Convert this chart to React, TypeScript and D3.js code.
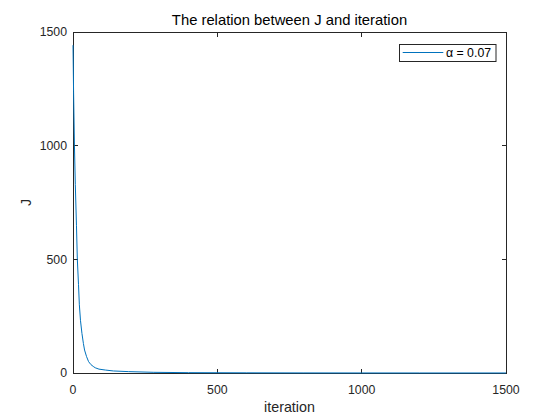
import React, { useEffect, useRef } from 'react';
import * as d3 from 'd3';

// cost J, by iteration
const iterations = [0, 2, 5, 8, 12, 15, 19, 22, 26, 31, 36, 40, 47, 54, 62, 70, 77, 90, 112, 140, 193, 280, 400, 600, 800, 1000, 1200, 1500];
const costJ = [1442, 1240, 1000, 830, 650, 500, 390, 300, 230, 174, 130, 101, 72, 50, 37, 29, 23, 17, 13, 9, 6, 3, 1.5, 0.8, 0.4, 0.2, 0.1, 0.1];

const xTicks = [0, 500, 1000, 1500];
const yTicks = [0, 500, 1000, 1500];
const legendLabel = 'α = 0.07';
const titleText = 'The relation between J and iteration';

const App: React.FC = () => {
  const svgRef = useRef<SVGSVGElement>(null);

  useEffect(() => {
    document.body.style.margin = '0';
    if (!svgRef.current) return;

    const width = 560;
    const height = 420;
    const margin = { top: 32, right: 54, bottom: 47, left: 73 };
    const innerWidth = width - margin.left - margin.right;
    const innerHeight = height - margin.top - margin.bottom;
    const axisColor = '#262626';
    const font = '"Liberation Sans", Arial, sans-serif';

    const svg = d3.select(svgRef.current);
    svg.selectAll('*').remove();
    svg.attr('width', width).attr('height', height);

    svg.append('rect').attr('width', width).attr('height', height).attr('fill', '#fff');

    const g = svg.append('g').attr('transform', `translate(${margin.left},${margin.top})`);

    const xScale = d3.scaleLinear().domain([0, 1500]).range([0, innerWidth]);
    const yScale = d3.scaleLinear().domain([0, 1500]).range([innerHeight, 0]);

    // box
    g.append('rect')
      .attr('width', innerWidth)
      .attr('height', innerHeight)
      .attr('fill', 'none')
      .attr('stroke', axisColor)
      .attr('stroke-width', 1)
      .attr('shape-rendering', 'crispEdges');

    const tickLen = 4.5;

    // ticks pointing inwards on all four sides
    xTicks.forEach((t) => {
      const x = xScale(t);
      g.append('line').attr('x1', x).attr('x2', x).attr('y1', innerHeight).attr('y2', innerHeight - tickLen)
        .attr('stroke', axisColor).attr('shape-rendering', 'crispEdges');
      g.append('line').attr('x1', x).attr('x2', x).attr('y1', 0).attr('y2', tickLen)
        .attr('stroke', axisColor).attr('shape-rendering', 'crispEdges');
      g.append('text')
        .attr('x', x)
        .attr('y', innerHeight + 20.5)
        .attr('text-anchor', 'middle')
        .attr('font-family', font)
        .attr('font-size', 12.3)
        .attr('fill', axisColor)
        .text(String(t));
    });

    yTicks.forEach((t) => {
      const y = yScale(t);
      g.append('line').attr('x1', 0).attr('x2', tickLen).attr('y1', y).attr('y2', y)
        .attr('stroke', axisColor).attr('shape-rendering', 'crispEdges');
      g.append('line').attr('x1', innerWidth).attr('x2', innerWidth - tickLen).attr('y1', y).attr('y2', y)
        .attr('stroke', axisColor).attr('shape-rendering', 'crispEdges');
      g.append('text')
        .attr('x', -6)
        .attr('y', y)
        .attr('dy', '0.36em')
        .attr('text-anchor', 'end')
        .attr('font-family', font)
        .attr('font-size', 12.3)
        .attr('fill', axisColor)
        .text(String(t));
    });

    // curve
    const line = d3
      .line<number>()
      .x((_, i) => xScale(iterations[i]))
      .y((d) => yScale(d));

    g.append('path')
      .datum(costJ)
      .attr('d', line)
      .attr('fill', 'none')
      .attr('stroke', '#0072BD')
      .attr('stroke-width', 1);

    // title
    g.append('text')
      .attr('x', innerWidth / 2)
      .attr('y', -7)
      .attr('text-anchor', 'middle')
      .attr('font-family', font)
      .attr('font-size', 14.8)
      .attr('fill', '#000')
      .text(titleText);

    // axis labels
    g.append('text')
      .attr('x', innerWidth / 2)
      .attr('y', innerHeight + 39)
      .attr('text-anchor', 'middle')
      .attr('font-family', font)
      .attr('font-size', 14.3)
      .attr('fill', axisColor)
      .text('iteration');

    g.append('text')
      .attr('transform', `translate(${30.5 - margin.left},${innerHeight / 2}) rotate(-90)`)
      .attr('text-anchor', 'middle')
      .attr('font-family', font)
      .attr('font-size', 14.3)
      .attr('fill', axisColor)
      .text('J');

    // legend
    const legend = g.append('g').attr('transform', `translate(${399.5 - margin.left},${44.5 - margin.top})`);
    legend.append('rect')
      .attr('width', 96.5)
      .attr('height', 17)
      .attr('fill', '#fff')
      .attr('stroke', axisColor)
      .attr('stroke-width', 1);
    legend.append('line')
      .attr('x1', 3.2)
      .attr('x2', 43.8)
      .attr('y1', 8)
      .attr('y2', 8)
      .attr('stroke', '#0072BD')
      .attr('stroke-width', 1);
    legend.append('text')
      .attr('x', 46.5)
      .attr('y', 8)
      .attr('dy', '0.36em')
      .attr('font-family', font)
      .attr('font-size', 12.3)
      .attr('fill', '#000')
      .text(legendLabel);
  }, []);

  return <svg ref={svgRef} style={{ display: 'block' }} />;
};

export default App;
